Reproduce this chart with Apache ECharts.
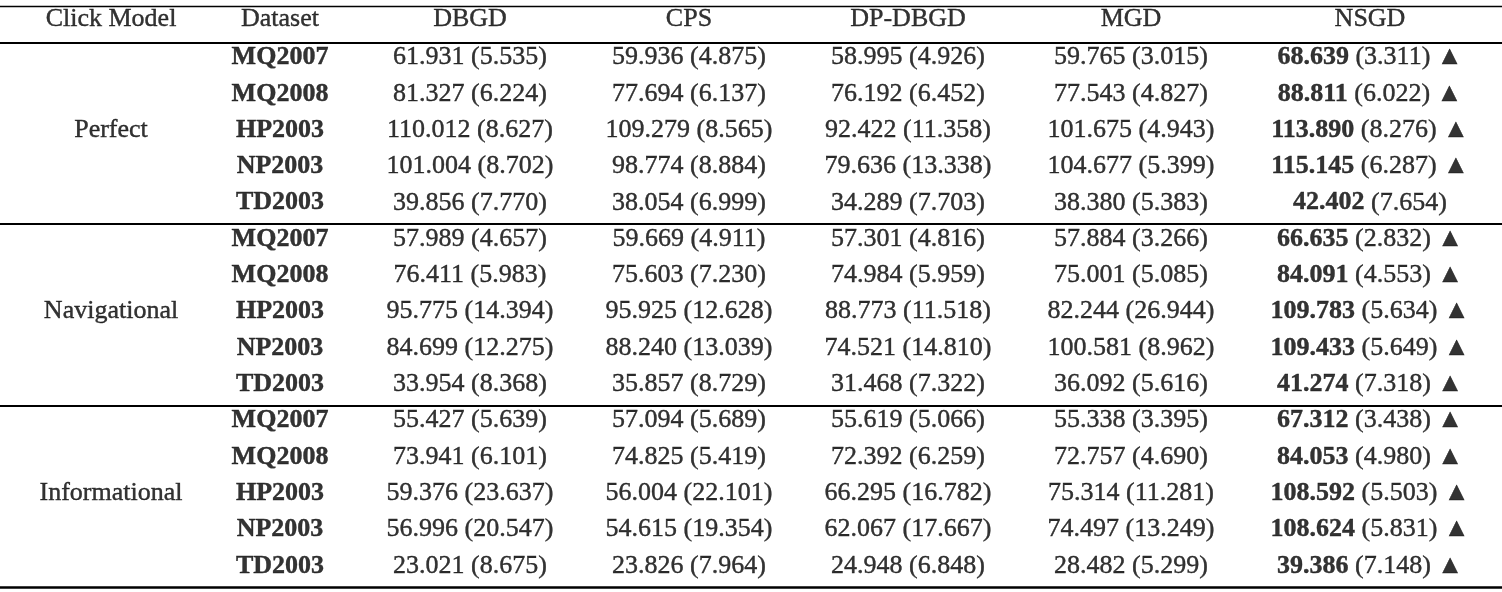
<!DOCTYPE html>
<html>
<head>
<meta charset="utf-8">
<script src="https://cdn.jsdelivr.net/npm/echarts@6/dist/echarts.min.js"></script>
<style>
  html, body { margin: 0; padding: 0; background: #fff; }
  #main { width: 1502px; height: 592px; }
</style>
</head>
<body>
<div id="main"></div>
<script>
// 表格数据
var headers = ['Click Model', 'Dataset', 'DBGD', 'CPS', 'DP-DBGD', 'MGD', 'NSGD'];
var clickModels = ['Perfect', 'Navigational', 'Informational'];
var datasets = ['MQ2007', 'MQ2008', 'HP2003', 'NP2003', 'TD2003'];
var methods = ['DBGD', 'CPS', 'DP-DBGD', 'MGD', 'NSGD'];

// 每行依次为 Perfect / Navigational / Informational 下的 5 个数据集
var meanDBGD = [61.931, 81.327, 110.012, 101.004, 39.856, 57.989, 76.411, 95.775, 84.699, 33.954, 55.427, 73.941, 59.376, 56.996, 23.021];
var stdDBGD  = [5.535, 6.224, 8.627, 8.702, 7.770, 4.657, 5.983, 14.394, 12.275, 8.368, 5.639, 6.101, 23.637, 20.547, 8.675];
var meanCPS  = [59.936, 77.694, 109.279, 98.774, 38.054, 59.669, 75.603, 95.925, 88.240, 35.857, 57.094, 74.825, 56.004, 54.615, 23.826];
var stdCPS   = [4.875, 6.137, 8.565, 8.884, 6.999, 4.911, 7.230, 12.628, 13.039, 8.729, 5.689, 5.419, 22.101, 19.354, 7.964];
var meanDP   = [58.995, 76.192, 92.422, 79.636, 34.289, 57.301, 74.984, 88.773, 74.521, 31.468, 55.619, 72.392, 66.295, 62.067, 24.948];
var stdDP    = [4.926, 6.452, 11.358, 13.338, 7.703, 4.816, 5.959, 11.518, 14.810, 7.322, 5.066, 6.259, 16.782, 17.667, 6.848];
var meanMGD  = [59.765, 77.543, 101.675, 104.677, 38.380, 57.884, 75.001, 82.244, 100.581, 36.092, 55.338, 72.757, 75.314, 74.497, 28.482];
var stdMGD   = [3.015, 4.827, 4.943, 5.399, 5.383, 3.266, 5.085, 26.944, 8.962, 5.616, 3.395, 4.690, 11.281, 13.249, 5.299];
var meanNSGD = [68.639, 88.811, 113.890, 115.145, 42.402, 66.635, 84.091, 109.783, 109.433, 41.274, 67.312, 84.053, 108.592, 108.624, 39.386];
var stdNSGD  = [3.311, 6.022, 8.276, 6.287, 7.654, 2.832, 4.553, 5.634, 5.649, 7.318, 3.438, 4.980, 5.503, 5.831, 7.148];
var sigNSGD  = [1, 1, 1, 1, 0, 1, 1, 1, 1, 1, 1, 1, 1, 1, 1];

var means = [meanDBGD, meanCPS, meanDP, meanMGD, meanNSGD];
var stds = [stdDBGD, stdCPS, stdDP, stdMGD, stdNSGD];

// 版式
var colX = [111, 280, 470, 689, 908, 1131, 1370];
var font = '"Liberation Serif", "DejaVu Serif", serif';
var fs = 26;

var cells = [];
headers.forEach(function (h, c) {
    cells.push({ value: [colX[c], 0.5], name: '{n|' + h + '}', label: { offset: [0, -5] } });
});
clickModels.forEach(function (m, g) {
    cells.push({ value: [colX[0], 1 + g * 5 + 2.5], name: '{n|' + m + '}' });
});
for (var r = 0; r < 15; r++) {
    var y = r + 1.5;
    cells.push({ value: [colX[1], y], name: '{b|' + datasets[r % 5] + '}' });
    var best = Math.max.apply(null, means.map(function (a) { return a[r]; }));
    for (var k = 0; k < methods.length; k++) {
        var m = means[k][r], s = stds[k][r];
        var txt = (m === best ? '{b|' + m.toFixed(3) + '}' : '{n|' + m.toFixed(3) + '}') +
            '{n| (' + s.toFixed(3) + ')}';
        if (k === 4 && sigNSGD[r]) txt += '{n| ▲}';
        cells.push({ value: [colX[k + 2], y], name: txt });
    }
}

var myChart = echarts.init(document.getElementById('main'));
var option = {
    backgroundColor: '#fff',
    animation: false,
    grid: { left: 0, right: 0, top: 6, bottom: 5 },
    xAxis: { type: 'value', min: 0, max: 1502, show: false },
    yAxis: { type: 'value', min: 0, max: 16, inverse: true, show: false },
    series: [
        {
            type: 'scatter',
            symbolSize: 0,
            silent: true,
            data: cells,
            label: {
                show: true,
                position: 'inside',
                offset: [0, -3],
                color: '#000',
                formatter: function (p) { return p.name; },
                rich: {
                    n: { fontFamily: font, fontSize: fs, color: '#000', textBorderColor: '#000', textBorderWidth: 0.4 },
                    b: { fontFamily: font, fontSize: fs, color: '#000', textBorderColor: '#000', textBorderWidth: 0.4, fontWeight: 'bold' }
                }
            },
            markLine: {
                silent: true,
                symbol: 'none',
                label: { show: false },
                lineStyle: { color: '#000', type: 'solid' },
                data: [
                    { yAxis: 0, lineStyle: { width: 1.3 } },
                    { yAxis: 1, lineStyle: { width: 2 } },
                    { yAxis: 6, lineStyle: { width: 2 } },
                    { yAxis: 11, lineStyle: { width: 2 } },
                    { yAxis: 16, lineStyle: { width: 2.5 } }
                ]
            }
        }
    ]
};
myChart.setOption(option);
</script>
</body>
</html>
